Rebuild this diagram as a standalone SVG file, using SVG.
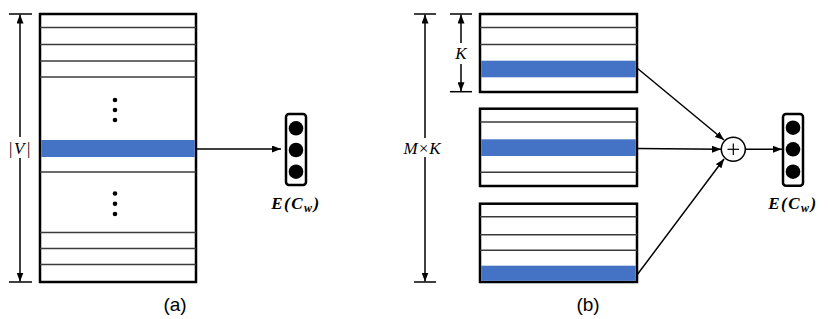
<svg xmlns="http://www.w3.org/2000/svg" width="830" height="319" viewBox="0 0 830 319">
<defs>
<style>
.box{fill:#fff;stroke:#000;stroke-width:2.5}
.row{stroke:#3a3a3a;stroke-width:1.4}
.band{fill:#4472C4}
.dim{stroke:#000;stroke-width:1.5;fill:none}
.con{stroke:#000;stroke-width:1.5;fill:none}
.vec{fill:#fff;stroke:#000;stroke-width:2.5}
.dot{fill:#000}
.math{font-family:"Liberation Serif",serif;font-style:italic;font-size:17px;fill:#000}
.mathb{font-family:"Liberation Serif",serif;font-style:italic;font-weight:bold;font-size:17px;letter-spacing:1.5px;fill:#000}
.cap{font-family:"Liberation Sans",sans-serif;font-size:19px;fill:#000}
</style>
<marker id="ah" markerUnits="userSpaceOnUse" markerWidth="9" markerHeight="7" refX="9" refY="3.5" orient="auto">
<path d="M0,0 L9,3.5 L0,7 z" fill="#000"/>
</marker>
</defs>

<g id="table-a">
<rect class="box" x="40" y="14" width="156" height="268"/>
<line class="row" x1="40" y1="27.5" x2="196" y2="27.5"/>
<line class="row" x1="40" y1="44.5" x2="196" y2="44.5"/>
<line class="row" x1="40" y1="61" x2="196" y2="61"/>
<line class="row" x1="40" y1="77" x2="196" y2="77"/>
<rect class="band" x="41.2" y="140" width="153.6" height="17"/>
<line class="row" x1="40" y1="172" x2="196" y2="172"/>
<line class="row" x1="40" y1="232.5" x2="196" y2="232.5"/>
<line class="row" x1="40" y1="248.5" x2="196" y2="248.5"/>
<line class="row" x1="40" y1="264.5" x2="196" y2="264.5"/>
<circle class="dot" cx="115" cy="100" r="2.3"/>
<circle class="dot" cx="115" cy="110" r="2.3"/>
<circle class="dot" cx="115" cy="120" r="2.3"/>
<circle class="dot" cx="115" cy="193.5" r="2.3"/>
<circle class="dot" cx="115" cy="203.7" r="2.3"/>
<circle class="dot" cx="115" cy="214" r="2.3"/>
</g>

<g id="dim-v">
<line class="dim" x1="9" y1="14" x2="32" y2="14"/>
<line class="dim" x1="9" y1="282" x2="32" y2="282"/>
<line class="dim" x1="20" y1="137" x2="20" y2="14.5" marker-end="url(#ah)"/>
<line class="dim" x1="20" y1="158" x2="20" y2="281.5" marker-end="url(#ah)"/>
<text class="math" x="20" y="154" text-anchor="middle" letter-spacing="1.5">|V|</text>
</g>

<g id="vec-a">
<rect class="vec" x="286" y="114" width="20" height="71" rx="3"/>
<circle class="dot" cx="296" cy="128.3" r="7.3"/>
<circle class="dot" cx="296" cy="150" r="7.3"/>
<circle class="dot" cx="296" cy="171.7" r="7.3"/>
<text class="mathb" x="296" y="209" text-anchor="middle">E(C<tspan font-size="12" dy="3">w</tspan><tspan dy="-3">)</tspan></text>
</g>

<text class="cap" x="175" y="311" text-anchor="middle">(a)</text>

<g id="table-b1">
<rect class="box" x="480" y="14" width="157" height="78"/>
<line class="row" x1="480" y1="27.5" x2="637" y2="27.5"/>
<line class="row" x1="480" y1="44.5" x2="637" y2="44.5"/>
<rect class="band" x="481.2" y="60.7" width="154.6" height="16.6"/>
</g>

<g id="table-b2">
<rect class="box" x="480" y="108.7" width="157" height="77.3"/>
<line class="row" x1="480" y1="122" x2="637" y2="122"/>
<rect class="band" x="481.2" y="139.3" width="154.6" height="16.7"/>
<line class="row" x1="480" y1="172.3" x2="637" y2="172.3"/>
</g>

<g id="table-b3">
<rect class="box" x="480" y="203.7" width="157" height="78.3"/>
<line class="row" x1="480" y1="216.7" x2="637" y2="216.7"/>
<line class="row" x1="480" y1="234.7" x2="637" y2="234.7"/>
<line class="row" x1="480" y1="250.3" x2="637" y2="250.3"/>
<rect class="band" x="481.2" y="265.7" width="154.6" height="15.1"/>
</g>

<g id="dim-mk">
<line class="dim" x1="414" y1="14" x2="436" y2="14"/>
<line class="dim" x1="414" y1="282" x2="436" y2="282"/>
<line class="dim" x1="425" y1="138" x2="425" y2="14.5" marker-end="url(#ah)"/>
<line class="dim" x1="425" y1="157" x2="425" y2="281.5" marker-end="url(#ah)"/>
<text class="math" x="422" y="154" text-anchor="middle">M×K</text>
</g>

<g id="dim-k">
<line class="dim" x1="450" y1="14" x2="472" y2="14"/>
<line class="dim" x1="450" y1="91.7" x2="472" y2="91.7"/>
<line class="dim" x1="461" y1="43" x2="461" y2="14.5" marker-end="url(#ah)"/>
<line class="dim" x1="461" y1="64" x2="461" y2="91.2" marker-end="url(#ah)"/>
<text class="math" x="461" y="59" text-anchor="middle">K</text>
</g>

<g id="sum">
<circle cx="733.3" cy="149.3" r="12" fill="#fff" stroke="#000" stroke-width="1.5"/>
<line x1="727.5" y1="149.3" x2="739.1" y2="149.3" stroke="#000" stroke-width="1.2"/>
<line x1="733.3" y1="143.5" x2="733.3" y2="155.1" stroke="#000" stroke-width="1.2"/>
</g>

<g id="vec-b">
<rect class="vec" x="783" y="114" width="20" height="71.7" rx="3"/>
<circle class="dot" cx="793" cy="127.7" r="7.3"/>
<circle class="dot" cx="793" cy="149.3" r="7.3"/>
<circle class="dot" cx="793" cy="171.7" r="7.3"/>
<text class="mathb" x="793" y="209" text-anchor="middle">E(C<tspan font-size="12" dy="3">w</tspan><tspan dy="-3">)</tspan></text>
</g>

<text class="cap" x="588" y="311" text-anchor="middle">(b)</text>

<g id="connectors">
<line class="con" x1="197" y1="149" x2="281" y2="149" marker-end="url(#ah)"/>
<line class="con" x1="637" y1="68" x2="724" y2="140" marker-end="url(#ah)"/>
<line class="con" x1="637" y1="148.5" x2="721" y2="149.3" marker-end="url(#ah)"/>
<line class="con" x1="637" y1="275" x2="724" y2="159" marker-end="url(#ah)"/>
<line class="con" x1="745.3" y1="149.3" x2="782" y2="149.3" marker-end="url(#ah)"/>
</g>
</svg>
